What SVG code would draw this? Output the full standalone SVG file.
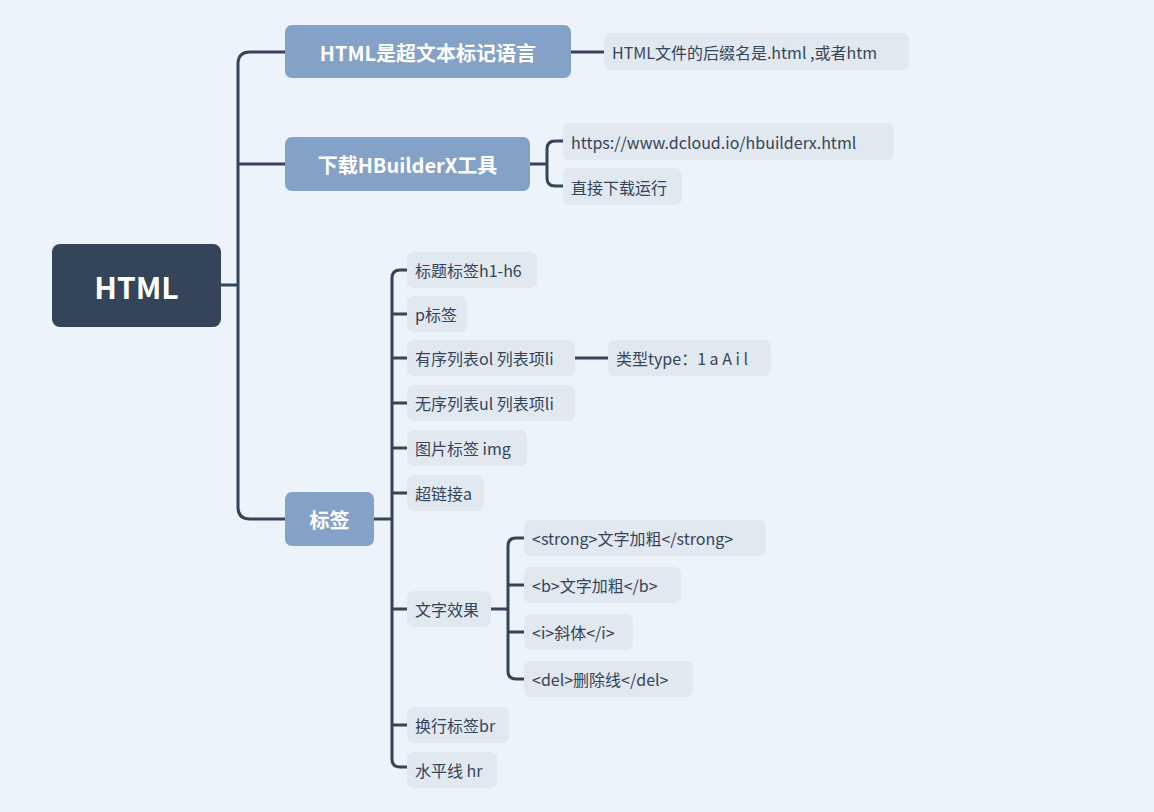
<svg xmlns="http://www.w3.org/2000/svg" width="1154" height="812" viewBox="0 0 1154 812">
<style>
text{font-family:"Noto Sans CJK SC","Noto Sans",sans-serif;dominant-baseline:central}
.l1 rect{fill:#84a2c8}
.l1 text{fill:#fff;font-size:20px;font-weight:bold;text-anchor:middle}
.lf rect{fill:#e2e8f0}
.lf text{fill:#344459;font-size:16px}
.c{fill:none;stroke:#344459;stroke-width:3;stroke-linecap:round}
</style>
<rect width="1154" height="812" fill="#ecf3fa"/>
<g id="connectors">
<path class="c" d="M221 285H238M285 52H250Q238 52 238 64V507Q238 519 250 519H285M238 164H285"/>
<path class="c" d="M571 52H604"/>
<path class="c" d="M530 164H547M563 141H555Q547 141 547 149V178Q547 186 555 186H563"/>
<path class="c" d="M374 519H392M407 270H400Q392 270 392 278V759Q392 767 400 767H407M392 314H407M392 358H407M392 403H407M392 448H407M392 493H407M392 609H407M392 725H407"/>
<path class="c" d="M575 358H608"/>
<path class="c" d="M491 609H508M524 538H516Q508 538 508 546V671Q508 679 516 679H524M508 585H524M508 632H524"/>
</g>
<g id="root"><rect x="52" y="244" width="169" height="83" rx="8" fill="#344459"/><text x="136.5" y="286" fill="#fff" font-size="30" font-weight="bold" text-anchor="middle">HTML</text></g>
<g id="n1" class="l1"><rect x="285" y="25" width="286" height="53" rx="7"/><text x="428" y="52">HTML是超文本标记语言</text></g>
<g id="n2" class="l1"><rect x="285" y="137" width="245" height="54" rx="7"/><text x="407.5" y="164">下载HBuilderX工具</text></g>
<g id="n3" class="l1"><rect x="285" y="492" width="89" height="54" rx="7"/><text x="329.5" y="519">标签</text></g>
<g id="a1" class="lf"><rect x="604" y="33" width="305" height="37" rx="7"/><text x="612" y="51.5">HTML文件的后缀名是.html ,或者htm</text></g>
<g id="b1" class="lf"><rect x="563" y="123" width="331" height="37" rx="7"/><text x="571" y="141.5">https://www.dcloud.io/hbuilderx.html</text></g>
<g id="b2" class="lf"><rect x="563" y="168" width="119" height="37" rx="7"/><text x="571" y="186.5">直接下载运行</text></g>
<g id="c1" class="lf"><rect x="407" y="252" width="130" height="36" rx="7"/><text x="415" y="270">标题标签h1-h6</text></g>
<g id="c2" class="lf"><rect x="407" y="296" width="60" height="36" rx="7"/><text x="415" y="314">p标签</text></g>
<g id="c3" class="lf"><rect x="407" y="340" width="168" height="36" rx="7"/><text x="415" y="358">有序列表ol 列表项li</text></g>
<g id="c3a" class="lf"><rect x="608" y="340" width="163" height="36" rx="7"/><text x="616" y="358">类型type：1 a A i l</text></g>
<g id="c4" class="lf"><rect x="407" y="385" width="168" height="36" rx="7"/><text x="415" y="403">无序列表ul 列表项li</text></g>
<g id="c5" class="lf"><rect x="407" y="430" width="120" height="36" rx="7"/><text x="415" y="448">图片标签 img</text></g>
<g id="c6" class="lf"><rect x="407" y="475" width="77" height="36" rx="7"/><text x="415" y="493">超链接a</text></g>
<g id="c7" class="lf"><rect x="407" y="591" width="84" height="36" rx="7"/><text x="415" y="609">文字效果</text></g>
<g id="d1" class="lf"><rect x="524" y="520" width="242" height="36" rx="7"/><text x="532" y="538">&lt;strong&gt;文字加粗&lt;/strong&gt;</text></g>
<g id="d2" class="lf"><rect x="524" y="567" width="157" height="36" rx="7"/><text x="532" y="585">&lt;b&gt;文字加粗&lt;/b&gt;</text></g>
<g id="d3" class="lf"><rect x="524" y="614" width="109" height="36" rx="7"/><text x="532" y="632">&lt;i&gt;斜体&lt;/i&gt;</text></g>
<g id="d4" class="lf"><rect x="524" y="661" width="169" height="36" rx="7"/><text x="532" y="679">&lt;del&gt;删除线&lt;/del&gt;</text></g>
<g id="c8" class="lf"><rect x="407" y="707" width="102" height="36" rx="7"/><text x="415" y="725">换行标签br</text></g>
<g id="c9" class="lf"><rect x="407" y="752" width="90" height="36" rx="7"/><text x="415" y="770">水平线 hr</text></g>
</svg>
